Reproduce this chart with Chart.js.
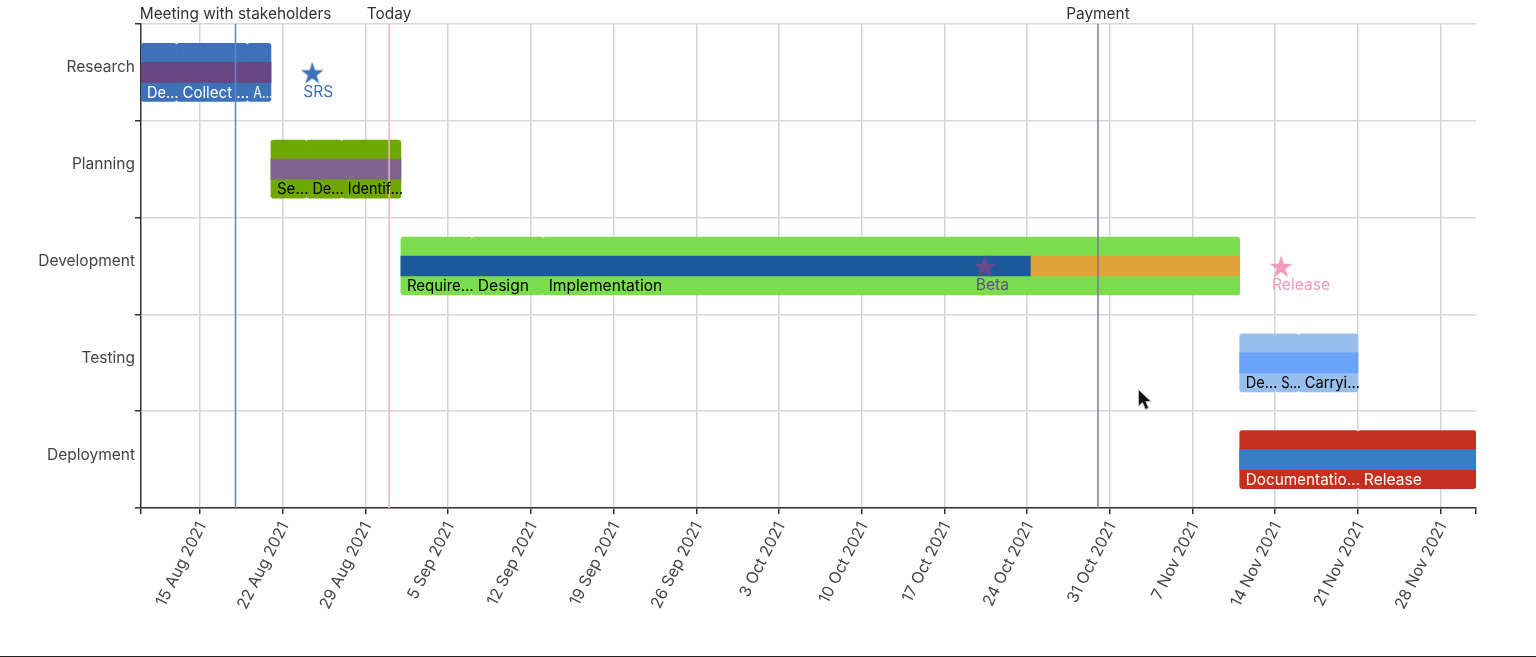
<!DOCTYPE html>
<html>
<head>
<meta charset="utf-8">
<style>
  html, body { margin: 0; background: #fefefe; }
  #wrap { position: relative; width: 1536px; height: 656px; border-bottom: 1px solid #222; }
  canvas { display: block; }
  #cursor { position: absolute; left: 1137px; top: 388px; }
</style>
<script src="https://cdn.jsdelivr.net/npm/chart.js@4"></script>
</head>
<body>
<div id="wrap">
  <canvas id="gantt" width="1536" height="656"></canvas>
  <svg id="cursor" width="18" height="26"><path d="M1.5 1.5 L1.5 18 L5.5 14.5 L8.5 21.5 L11.5 20 L8.8 13.5 L14 13.5 Z" fill="#111" stroke="#bbb" stroke-width="1"/></svg>
</div>
<script>
const sections = ['Research', 'Planning', 'Development', 'Testing', 'Deployment'];

const taskNames = ['De…', 'Collect …', 'A…', 'Se…', 'De…', 'Identif…', 'Require…', 'Design', 'Implementation', 'De…', 'S…', 'Carryi…', 'Documentatio…', 'Release'];
const taskSections = ['Research', 'Research', 'Research', 'Planning', 'Planning', 'Planning', 'Development', 'Development', 'Development', 'Testing', 'Testing', 'Testing', 'Deployment', 'Deployment'];
const taskStarts = ['2021-08-10', '2021-08-13', '2021-08-19', '2021-08-21', '2021-08-24', '2021-08-27', '2021-09-01', '2021-09-07', '2021-09-13', '2021-11-11', '2021-11-14', '2021-11-16', '2021-11-11', '2021-11-21'];
const taskEnds = ['2021-08-13', '2021-08-19', '2021-08-21', '2021-08-24', '2021-08-27', '2021-09-01', '2021-09-07', '2021-09-13', '2021-11-11', '2021-11-14', '2021-11-16', '2021-11-21', '2021-11-21', '2021-12-01'];

const spanSections = ['Research', 'Planning', 'Development', 'Development', 'Testing', 'Deployment'];
const spanStarts = ['2021-08-10', '2021-08-21', '2021-09-01', '2021-10-24T08:00Z', '2021-11-11', '2021-11-11'];
const spanEnds = ['2021-08-21', '2021-09-01', '2021-10-24T08:00Z', '2021-11-11', '2021-11-21', '2021-12-01'];

const lineNames = ['Meeting with stakeholders', 'Today', 'Payment'];
const lineDates = ['2021-08-18', '2021-08-31', '2021-10-30'];

const markerNames = ['SRS', 'Beta', 'Release'];
const markerSections = ['Research', 'Development', 'Development'];
const markerDates = ['2021-08-24T12:00Z', '2021-10-20T10:00Z', '2021-11-14T12:00Z'];

const tickDates = ['2021-08-10', '2021-08-15', '2021-08-22', '2021-08-29', '2021-09-05', '2021-09-12', '2021-09-19', '2021-09-26', '2021-10-03', '2021-10-10', '2021-10-17', '2021-10-24', '2021-10-31', '2021-11-07', '2021-11-14', '2021-11-21', '2021-11-28', '2021-12-01'];
const tickLabels = ['', '15 Aug 2021', '22 Aug 2021', '29 Aug 2021', '5 Sep 2021', '12 Sep 2021', '19 Sep 2021', '26 Sep 2021', '3 Oct 2021', '10 Oct 2021', '17 Oct 2021', '24 Oct 2021', '31 Oct 2021', '7 Nov 2021', '14 Nov 2021', '21 Nov 2021', '28 Nov 2021', ''];

// colours
const taskColor = { Research: '#3d72b8', Planning: '#6fa800', Development: '#7bdc4e', Testing: '#98bfec', Deployment: '#c5301e' };
const taskText = { Research: '#ffffff', Planning: '#000000', Development: '#000000', Testing: '#000000', Deployment: '#ffffff' };
const spanColors = ['#674683', '#7f6490', '#1c5a9c', '#e2a23a', '#6aa2fa', '#357ec6'];
const lineColors = ['#5f86c6', '#efb2c8', '#8f6fa6'];
const markerColors = ['#3d72b8', '#6a4a8c', '#ef9ab9'];

const FONT = 'Inter, "Noto Sans", sans-serif';
const day = s => Date.parse(s) / 864e5;

function starImage(color) {
    const c = document.createElement('canvas');
    c.width = c.height = 26;
    const g = c.getContext('2d');
    g.fillStyle = color;
    g.beginPath();
    for (let i = 0; i < 10; i++) {
        const r = i % 2 ? 4.6 : 12;
        const a = -Math.PI / 2 + i * Math.PI / 5;
        g.lineTo(13 + r * Math.cos(a), 14.5 + r * Math.sin(a));
    }
    g.closePath();
    g.fill();
    return c;
}

// task names, marker names and the labels above the vertical lines
const textPlugin = {
    id: 'ganttText',
    afterDatasetsDraw(chart) {
        const g = chart.ctx, x = chart.scales.x, y = chart.scales.y;
        g.save();
        g.textBaseline = 'middle';
        g.textAlign = 'left';
        g.font = '15.6px ' + FONT;
        taskNames.forEach((name, i) => {
            const left = x.getPixelForValue(day(taskStarts[i]));
            const room = x.getPixelForValue(day(taskEnds[i])) - left - 4;
            g.fillStyle = taskText[taskSections[i]];
            g.fillText(name, left + 6, y.getPixelForValue(taskSections[i]) + 20.5, room);
        });
        markerNames.forEach((name, i) => {
            g.fillStyle = markerColors[i];
            g.fillText(name, x.getPixelForValue(day(markerDates[i])) - 9, y.getPixelForValue(markerSections[i]) + 19.5);
        });
        g.font = '15.4px ' + FONT;
        g.fillStyle = '#333';
        g.textAlign = 'center';
        lineNames.forEach((name, i) => {
            g.fillText(name, x.getPixelForValue(day(lineDates[i])), 14);
        });
        g.restore();
    }
};

const datasets = [
    {
        type: 'bar',
        data: taskNames.map((_, i) => ({ x: [day(taskStarts[i]), day(taskEnds[i])], y: taskSections[i] })),
        backgroundColor: taskSections.map(s => taskColor[s]),
        borderRadius: 3,
        borderSkipped: false,
        barThickness: 58,
        grouped: false,
        order: 3
    },
    {
        type: 'bar',
        data: spanStarts.map((s, i) => ({ x: [day(s), day(spanEnds[i])], y: spanSections[i] })),
        backgroundColor: spanColors,
        barThickness: 20,
        grouped: false,
        order: 2
    }
];

lineDates.forEach((d, i) => {
    datasets.push({
        type: 'scatter',
        yAxisID: 'y2',
        showLine: true,
        data: [{ x: day(d), y: 0 }, { x: day(d), y: 1 }],
        borderColor: lineColors[i],
        borderWidth: 1.5,
        pointRadius: 0,
        order: 1
    });
});

datasets.push({
    type: 'scatter',
    data: markerDates.map((d, i) => ({ x: day(d), y: markerSections[i] })),
    pointStyle: markerColors.map(starImage),
    order: 0
});

new Chart(document.getElementById('gantt'), {
    type: 'bar',
    data: { labels: sections, datasets },
    plugins: [textPlugin],
    options: {
        indexAxis: 'y',
        responsive: false,
        animation: false,
        events: [],
        layout: { padding: { top: 24, right: 60 } },
        plugins: { legend: { display: false }, tooltip: { enabled: false } },
        scales: {
            x: {
                type: 'linear',
                min: day(tickDates[0]),
                max: day(tickDates[tickDates.length - 1]),
                afterBuildTicks: scale => { scale.ticks = tickDates.map(d => ({ value: day(d) })); },
                afterFit: scale => { scale.height = 148; },
                grid: {
                    color: ctx => (ctx.index === 0 || ctx.index === tickDates.length - 1) ? 'transparent' : '#d4d4d8',
                    lineWidth: 1.5,
                    tickColor: '#333',
                    tickWidth: 1.5,
                    tickLength: 6
                },
                border: { color: '#333', width: 1.5 },
                ticks: {
                    autoSkip: false,
                    maxRotation: 63,
                    minRotation: 63,
                    padding: 5,
                    labelOffset: 2,
                    color: '#444',
                    font: { family: FONT, size: 16 },
                    callback: (v, i) => tickLabels[i]
                }
            },
            y: {
                type: 'category',
                labels: sections,
                offset: true,
                afterFit: scale => { scale.width = 141; },
                grid: {
                    offset: true,
                    color: '#d8d8de',
                    lineWidth: 1.5,
                    tickColor: '#333',
                    tickWidth: 1.5,
                    tickLength: 6
                },
                border: { color: '#333', width: 1.5 },
                ticks: {
                    color: '#444',
                    labelOffset: -4.6,
                    padding: 0,
                    font: { family: FONT, size: 15.5 }
                }
            },
            y2: { type: 'linear', min: 0, max: 1, offset: false, display: false }
        }
    }
});
</script>
</body>
</html>
